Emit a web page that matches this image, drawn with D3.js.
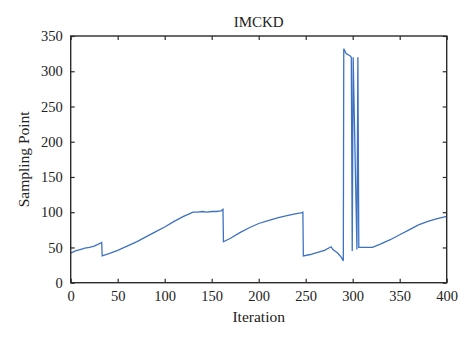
<!DOCTYPE html>
<html><head><meta charset="utf-8">
<script src="https://cdn.jsdelivr.net/npm/d3@7"></script>
<style>body{margin:0;background:#fff}svg{display:block}</style>
</head><body>
<svg id="c" width="474" height="338"></svg>
<script>
const title = "IMCKD";
const xLabel = "Iteration";
const yLabel = "Sampling Point";
const xTicks = [0,50,100,150,200,250,300,350,400];
const yTicks = [0,50,100,150,200,250,300,350];
const iterations = [0,5,10,15,20,25,30,33,33.5,40,50,60,70,80,90,100,110,120,125,130,135,140,145,150,155,160,162,162.5,170,180,190,200,210,220,230,240,245,247,247.5,255,260,270,277,279,281,284,286,288,290,290.5,293,297,298.5,299.5,300.5,304.5,305.5,306.5,315,321,330,340,350,360,370,380,390,400];
const values =     [42,45,47,49,50,52,55,57,38,41,46,52,58,65,72,79,87,94,97,100,100,101,100,101,101,102,104,58,63,71,78,84,88,92,95,98,99,100,38,40,42,46,51,47,45,42,39,36,31,332,325,322,320,45,320,47,320,50,50,50,55,61,68,75,82,87,91,94];

const svg = d3.select("#c");
const m = {l:70.7, r:446.7, t:36, b:282.7};
const x = d3.scaleLinear().domain([0,400]).range([m.l,m.r]);
const y = d3.scaleLinear().domain([0,350]).range([m.b,m.t]);
const axisColor = "#2b2b2b";
const font = "'Liberation Serif', 'DejaVu Serif', serif";

const data = iterations.map((d,i)=>[d, values[i]]);
svg.append("path").datum(data)
  .attr("fill","none").attr("stroke","#3d72c2").attr("stroke-width",1.3)
  .attr("d", d3.line().x(d=>x(d[0])).y(d=>y(d[1])));

function styleAxis(g, showText){
  g.select(".domain").remove();
  g.selectAll("line").attr("stroke",axisColor).attr("stroke-width",1.2);
  g.selectAll("text").attr("fill","#222").style("font-family",font).style("font-size","14.5px");
  if(!showText) g.selectAll("text").remove();
}
svg.append("g").attr("transform",`translate(0,${m.b})`)
  .call(d3.axisBottom(x).tickValues(xTicks).tickSizeInner(-4).tickSizeOuter(0).tickPadding(8))
  .call(g=>styleAxis(g,true));
svg.append("g").attr("transform",`translate(0,${m.t})`)
  .call(d3.axisTop(x).tickValues(xTicks).tickSizeInner(-4).tickSizeOuter(0).tickFormat(""))
  .call(g=>styleAxis(g,false));
svg.append("g").attr("transform",`translate(${m.l},0)`)
  .call(d3.axisLeft(y).tickValues(yTicks).tickSizeInner(-4).tickSizeOuter(0).tickPadding(8))
  .call(g=>styleAxis(g,true));
svg.append("g").attr("transform",`translate(${m.r},0)`)
  .call(d3.axisRight(y).tickValues(yTicks).tickSizeInner(-4).tickSizeOuter(0).tickFormat(""))
  .call(g=>styleAxis(g,false));

svg.append("rect").attr("x",m.l).attr("y",m.t).attr("width",m.r-m.l).attr("height",m.b-m.t)
  .attr("fill","none").attr("stroke",axisColor).attr("stroke-width",1.4);

svg.append("text").attr("x",(m.l+m.r)/2).attr("y",27).attr("text-anchor","middle")
  .style("font-family",font).style("font-size","15px").attr("fill","#222").text(title);
svg.append("text").attr("x",(m.l+m.r)/2).attr("y",322).attr("text-anchor","middle")
  .style("font-family",font).style("font-size","15.5px").attr("fill","#222").text(xLabel);
svg.append("text").attr("transform",`translate(29,${(m.t+m.b)/2}) rotate(-90)`).attr("text-anchor","middle")
  .style("font-family",font).style("font-size","15.5px").attr("fill","#222").text(yLabel);
</script>
</body></html>
